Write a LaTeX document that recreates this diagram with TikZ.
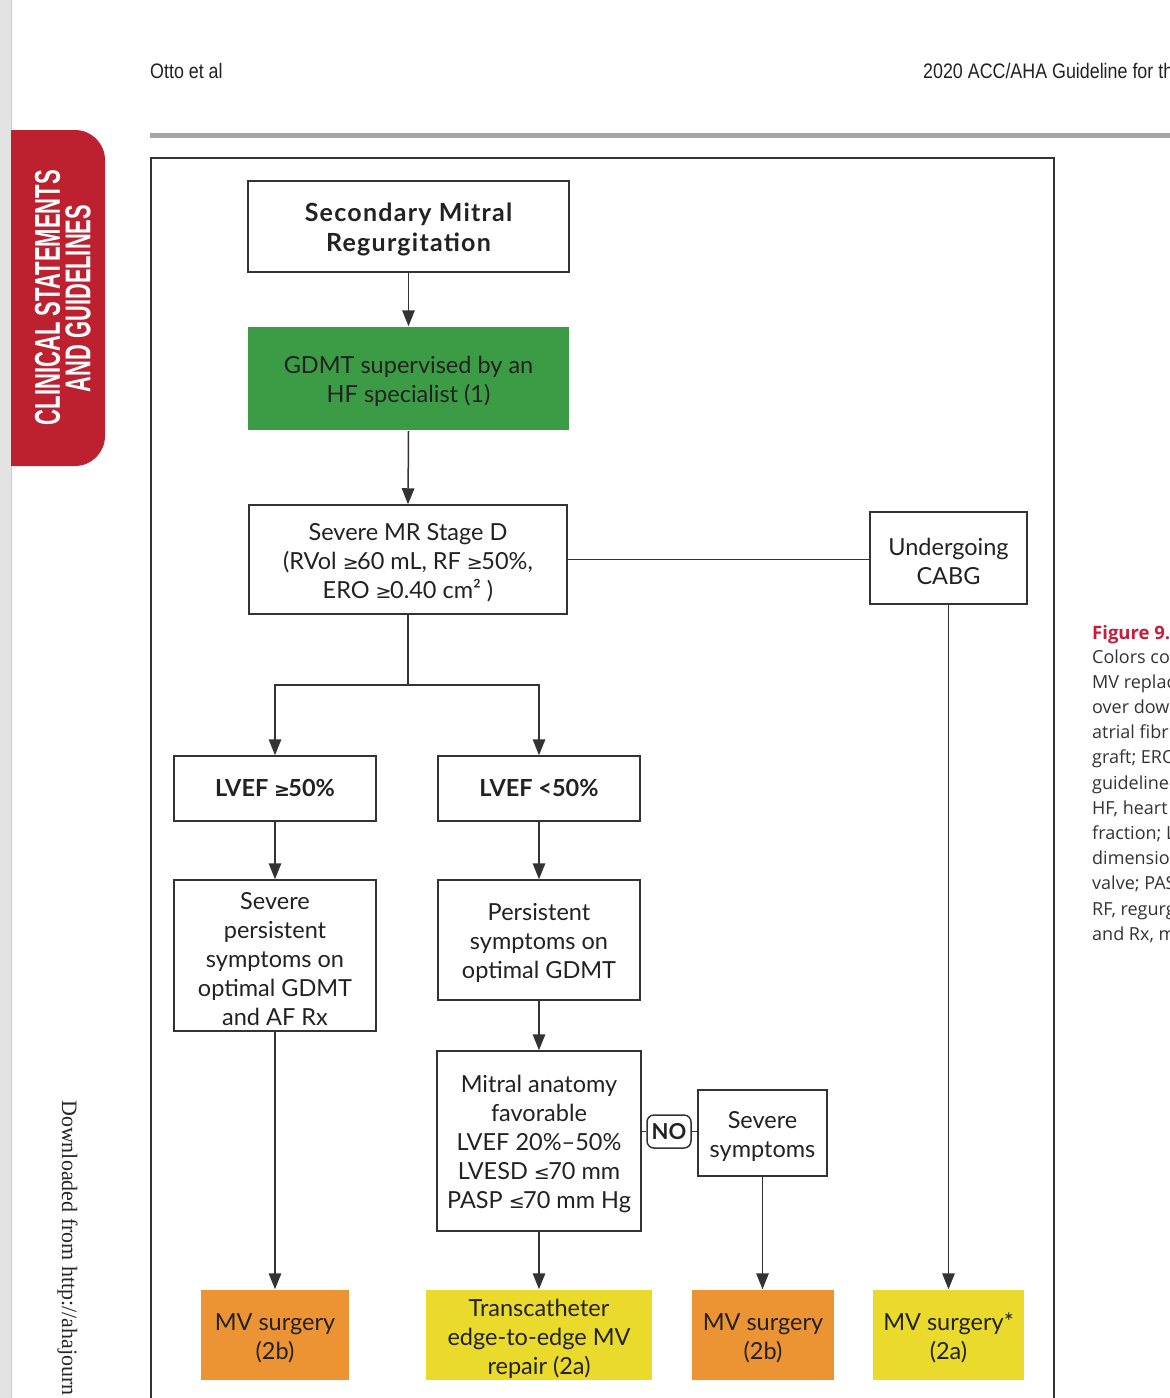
\documentclass[tikz,border=0pt]{standalone}
\usepackage{fontspec}
\usepackage{graphicx}
\usetikzlibrary{arrows.meta}
\setmainfont{Lato}
\newfontfamily\dfont{Lato}
\newfontfamily\tbfont{Lato}[LetterSpace=5]
\newfontfamily\hfont{Liberation Sans}
\newfontfamily\cfont{Open Sans}
\newfontfamily\tfont{Liberation Serif}
\newfontfamily\symfont{DejaVu Sans}
\newcommand\gesign{{\symfont\fontsize{19}{19}\selectfont ≥}\kern-1.5pt}
\newcommand\lesign{{\symfont\fontsize{19}{19}\selectfont ≤}\kern-1.5pt}
\newcommand\topstrut{\rule{0pt}{24pt}}
\definecolor{lc}{HTML}{333333}
\definecolor{tc}{HTML}{222222}
\definecolor{grn}{HTML}{3C9B45}
\definecolor{orng}{HTML}{EC9434}
\definecolor{yel}{HTML}{E9DA2B}
\definecolor{tabred}{HTML}{BD2130}
\definecolor{capred}{HTML}{C41E3A}
\definecolor{rulegray}{HTML}{A6A6A6}
\definecolor{hc}{HTML}{222222}
\definecolor{capc}{HTML}{333333}
\begin{document}
\begin{tikzpicture}[x=1pt,y=-1pt,
  box/.style={draw=lc, line width=1.5pt, align=center, inner sep=0pt, text=tc,
    font=\dfont\fontsize{23.5}{29}\selectfont},
  fbox/.style={box, draw=none},
  arr/.style={draw=lc, line width=1.5pt, -{Triangle[length=16pt,width=12.5pt]}},
  ln/.style={draw=lc, line width=1.5pt},
  captxt/.style={anchor=base west, inner sep=0pt, text=capc, font=\cfont\fontsize{18}{18}\selectfont}]
\useasboundingbox (0,0) rectangle (1170,1398);
\fill[white] (0,0) rectangle (1170,1398);
% side tab
\fill[tabred, rounded corners=30pt] (-50,130) rectangle (105,466);
\fill[gray!22] (0,0) rectangle (11,1398);
\draw[gray!40, line width=0.8pt] (11,0) -- (11,130) (11,466) -- (11,1398);
\node[rotate=90, inner sep=0pt, text=white] (tab1) at (47.5,297.5)
  {\resizebox{255pt}{25pt}{\hfont\bfseries CLINICAL STATEMENTS}};
\node[rotate=90, inner sep=0pt, text=white] (tab2) at (78,298.5)
  {\resizebox{187pt}{25pt}{\hfont\bfseries AND GUIDELINES}};
% header
\node[anchor=base west, inner sep=0pt, text=hc, font=\hfont\fontsize{21}{21}\selectfont] (hl) at (150,78) {\scalebox{0.85}[1]{Otto et al}};
\node[anchor=base west, inner sep=0pt, text=hc, font=\hfont\fontsize{21}{21}\selectfont] (hr) at (923,78) {\scalebox{0.85}[1]{2020 ACC/AHA Guideline for th}};
\fill[rulegray] (150,133) rectangle (1175,138);
% frame
\draw[lc, line width=2pt] (151,1410) -- (151,158) -- (1054,158) -- (1054,1410);
% downloaded text
\node[rotate=-90, anchor=base west, inner sep=0pt, text=black!85, font=\tfont\fontsize{22}{22}\selectfont] (dl) at (62,1100) {Downloaded from http://ahajourn};
% caption
\node[captxt, text=capred, font=\cfont\bfseries\fontsize{18.5}{18}\selectfont] (c0) at (1092,639) {Figure 9.};
\node[captxt] (c1) at (1092,663.0) {Colors co};
\node[captxt] (c2) at (1092,688.2) {MV replac};
\node[captxt] (c3) at (1092,713.4) {over dow};
\node[captxt] (c4) at (1092,738.6) {atrial fibri};
\node[captxt] (c5) at (1092,763.8) {graft; ERO};
\node[captxt] (c6) at (1092,789.0) {guideline-};
\node[captxt] (c7) at (1092,814.2) {HF, heart};
\node[captxt] (c8) at (1092,839.4) {fraction; L};
\node[captxt] (c9) at (1092,864.6) {dimension};
\node[captxt] (c10) at (1092,889.8) {valve; PAS};
\node[captxt] (c11) at (1092,915.0) {RF, regurg};
\node[captxt] (c12) at (1092,940.2) {and Rx, m};
% flowchart nodes
\node[box, minimum width=321pt, minimum height=91pt, font=\tbfont\bfseries\fontsize{25}{30}\selectfont] (n1) at (408.5,226.5) {\topstrut Secondary Mitral\\Regurgitation};
\node[fbox, fill=grn, minimum width=321pt, minimum height=103pt] (n2) at (408.5,378.5) {\topstrut GDMT supervised by an\\HF specialist (1)};
\node[box, minimum width=318pt, minimum height=109pt] (n3) at (408,559.5) {\topstrut Severe MR Stage D\\(RVol \gesign60 mL, RF \gesign50\%,\\ERO \gesign0.40 cm² )};
\node[box, minimum width=157pt, minimum height=92pt] (n4) at (948.5,558) {\topstrut Undergoing\\CABG};
\node[box, minimum width=202pt, minimum height=65pt, font=\dfont\bfseries\fontsize{23.5}{29}\selectfont] (n5) at (275,788.5) {LVEF {\symfont\bfseries\fontsize{19}{19}\selectfont ≥}\kern-1.5pt50\%};
\node[box, minimum width=202pt, minimum height=65pt, font=\dfont\bfseries\fontsize{23.5}{29}\selectfont] (n6) at (539,788.5) {LVEF <50\%};
\node[box, minimum width=202pt, minimum height=151pt] (n7) at (275,955.5) {\topstrut Severe\\persistent\\symptoms on\\optimal GDMT\\and AF Rx};
\node[box, minimum width=202pt, minimum height=120pt] (n8) at (539,940) {\topstrut Persistent\\symptoms on\\optimal GDMT};
\node[box, minimum width=204pt, minimum height=180pt] (n9) at (539,1141) {\topstrut Mitral anatomy\\favorable\\LVEF 20\%–50\%\\LVESD \lesign70 mm\\PASP \lesign70 mm Hg};
\node[box, rounded corners=7pt, minimum width=44pt, minimum height=33pt, font=\dfont\bfseries\fontsize{22}{22}\selectfont] (n10) at (669,1131.5) {NO};
\node[box, minimum width=129pt, minimum height=86pt] (n11) at (762.5,1133) {\topstrut Severe\\symptoms};
\node[fbox, fill=orng, minimum width=148pt, minimum height=90pt] (n12) at (275,1335) {\topstrut MV surgery\\(2b)};
\node[fbox, fill=yel, minimum width=226pt, minimum height=90pt] (n13) at (539,1335) {\topstrut Transcatheter\\edge-to-edge MV\\repair (2a)};
\node[fbox, fill=orng, minimum width=142pt, minimum height=90pt] (n14) at (763,1335) {\topstrut MV surgery\\(2b)};
\node[fbox, fill=yel, minimum width=151pt, minimum height=90pt] (n15) at (948.5,1335) {\topstrut MV surgery*\\(2a)};
% connectors
\coordinate (j) at (408,685);
\draw[arr] (n1.south) -- (n2.north);
\draw[arr] (n2.south) -- (n3.north);
\draw[ln] (n3.east) -- (n4.west |- n3.east);
\draw[arr] (n4.south) -- (n15.north);
\draw[ln] (n3.south) -- (j);
\draw[arr] (j) -| (n5.north);
\draw[arr] (j) -| (n6.north);
\draw[arr] (n5.south) -- (n7.north);
\draw[arr] (n6.south) -- (n8.north);
\draw[arr] (n8.south) -- (n9.north);
\draw[arr] (n9.south) -- (n13.north);
\draw[arr] (n7.south) -- (n12.north);
\draw[ln] (n10.west) -- (n9.east |- n10.west);
\draw[ln] (n10.east) -- (n11.west |- n10.east);
\draw[arr] (n11.south) -- (n11.south |- n14.north);
\end{tikzpicture}
\end{document}
